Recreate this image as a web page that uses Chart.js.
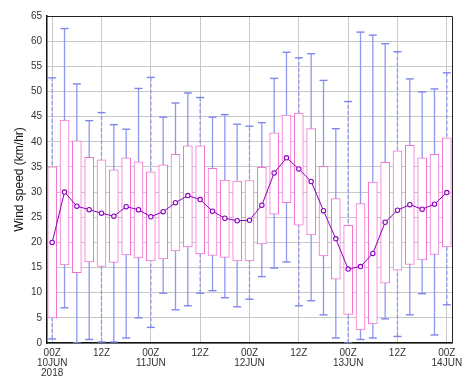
<!DOCTYPE html>
<html>
<head>
<meta charset="utf-8">
<script src="https://cdn.jsdelivr.net/npm/chart.js@4/dist/chart.umd.min.js"></script>
<style>
  html, body { margin: 0; padding: 0; background: #fff; }
  #wrap { width: 474px; height: 379px; }
</style>
</head>
<body>
<div id="wrap"><canvas id="myChart" width="474" height="379"></canvas></div>
<script>
// forecast hour from 00Z 10JUN 2018, every 3h
const hours = [0,3,6,9,12,15,18,21,24,27,30,33,36,39,42,45,48,51,54,57,60,63,66,69,72,75,78,81,84,87,90,93,96];
// ensemble spread of wind speed (km/hr)
const windMax = [52.7,62.5,51.5,44.2,45.8,43.4,42.5,50.6,52.8,44.9,47.7,49.7,48.8,44.9,45.4,43.5,43.1,43.8,52.6,57.8,56.7,57.5,52.2,42.6,48.0,61.8,61.2,59.5,57.9,52.5,49.9,50.5,53.7];
const windQ3  = [35.0,44.3,40.2,36.9,36.4,34.4,36.8,36.0,34.0,35.4,37.5,39.2,39.2,34.7,32.4,32.2,32.3,34.9,41.8,45.3,45.7,42.6,35.1,28.7,23.4,27.7,32.0,35.9,38.2,39.3,36.8,37.5,40.8];
const windMid = [20.0,30.0,27.2,26.5,25.8,25.2,27.1,26.5,25.1,26.1,27.9,29.3,28.5,26.2,24.8,24.3,24.4,27.4,33.8,36.8,34.6,32.1,26.3,20.7,14.7,15.2,17.8,24.0,26.4,27.5,26.6,27.6,29.9];
const windQ1  = [5.0,15.5,14.0,16.1,15.2,16.0,17.5,16.9,16.3,16.7,18.3,19.1,17.7,17.4,17.0,16.3,16.3,19.7,25.6,27.9,23.4,21.5,17.3,12.7,5.7,2.6,3.8,11.9,14.5,15.6,16.5,17.6,19.1];
const windMin = [0.8,7.0,0.0,0.7,0.2,0.2,1.0,5.0,3.1,9.9,6.6,7.4,9.9,10.4,9.0,7.2,8.7,13.2,14.9,16.1,7.4,8.4,5.6,1.0,0.0,0.7,1.0,4.8,1.3,5.6,9.8,1.6,7.6];
// tick labels
const tickHours = [0,12,24,36,48,60,72,84,96];
const tickLabels = [["00Z","10JUN","2018"],"12Z",["00Z","11JUN"],"12Z",["00Z","12JUN"],"12Z",["00Z","13JUN"],"12Z",["00Z","14JUN"]];

// whiskers: min -> max segments, broken by nulls
const whiskerPts = [];
hours.forEach((h, i) => {
  whiskerPts.push({x: h, y: windMin[i]});
  whiskerPts.push({x: h, y: windMax[i]});
  whiskerPts.push({x: h, y: null});
});

const frame = {
  id: 'frame',
  afterDraw(chart) {
    const a = chart.chartArea, c = chart.ctx;
    c.save();
    c.strokeStyle = '#222';
    c.lineWidth = 1;
    c.beginPath();
    c.moveTo(a.left, a.top + 0.5);
    c.lineTo(a.right + 0.5, a.top + 0.5);
    c.lineTo(a.right + 0.5, a.bottom);
    c.stroke();
    c.restore();
  }
};

const ctx = document.getElementById('myChart').getContext('2d');
let windChart = new Chart(ctx, {
  type: 'bar',
  data: {
    datasets: [
      {
        type: 'line',
        label: 'Median',
        data: hours.map((h, i) => ({x: h, y: windMid[i]})),
        borderColor: '#8c00bc',
        borderWidth: 1,
        pointRadius: 2.2,
        pointBackgroundColor: '#fff',
        pointBorderColor: '#8c00bc',
        pointBorderWidth: 1.1,
        lineTension: 0,
        order: 0
      },
      {
        label: 'Box',
        data: hours.map((h, i) => ({x: h, y: [windQ1[i], windQ3[i]]})),
        backgroundColor: '#fff',
        borderColor: '#f075cf',
        borderWidth: 1,
        borderSkipped: false,
        barThickness: 9,
        order: 1
      },
      {
        type: 'line',
        label: 'Range',
        data: whiskerPts,
        spanGaps: false,
        borderColor: '#9198f0',
        borderWidth: 1.3,
        segment: {
          borderDash: c => (c.p0.parsed.x % 12 === 0 ? [4, 2] : undefined)
        },
        pointStyle: 'line',
        pointRadius: 4,
        pointBorderColor: '#7f86ea',
        pointBorderWidth: 1.4,
        order: 2
      }
    ]
  },
  options: {
    responsive: false,
    animation: false,
    layout: { padding: { top: 16, right: 22, left: 0, bottom: 0 } },
    plugins: { legend: { display: false }, tooltip: { enabled: false } },
    scales: {
      x: {
        type: 'linear',
        offset: false,
        min: -1.26,
        max: 97.26,
        afterBuildTicks: s => { s.ticks = tickHours.map(v => ({value: v})); },
        afterFit: s => { s.height = 36; },
        border: { color: '#111', width: 1.5 },
        grid: { offset: false, color: '#c8c8c8', borderDash: [1, 3], drawTicks: false },
        ticks: {
          autoSkip: false,
          maxRotation: 0,
          padding: 5,
          color: '#333',
          font: { family: 'Liberation Sans', size: 10, lineHeight: 1.0 },
          callback: v => tickLabels[tickHours.indexOf(v)]
        }
      },
      y: {
        min: 0,
        max: 65,
        afterFit: s => { s.width = 47; },
        border: { color: '#111', width: 1.5 },
        grid: { color: '#c8c8c8', borderDash: [1, 3], drawTicks: false },
        ticks: {
          stepSize: 5,
          padding: 5,
          color: '#333',
          font: { family: 'Liberation Sans', size: 10 }
        },
        title: {
          display: true,
          text: 'Wind speed (km/hr)',
          color: '#111',
          padding: { top: 12, bottom: 0 },
          font: { family: 'Liberation Sans', size: 12 }
        }
      }
    }
  },
  plugins: [frame]
});
</script>
</body>
</html>
